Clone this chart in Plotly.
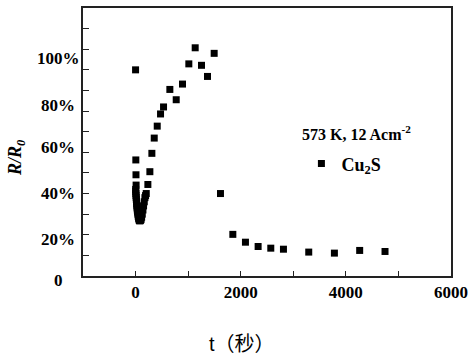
import plotly.graph_objects as go

# Data: time (s) and R/R0
t_vals = [0, 5, 8, 10,
          2, 4, 6, 9, 12, 15, 18, 21, 25, 29, 33, 38, 44, 50, 57, 65, 75, 85, 95,
          105, 115, 127, 140, 152, 165, 178, 190, 203,
          234, 272, 310, 355, 412, 475, 532, 652, 773, 893, 1013, 1134, 1254, 1368,
          1495, 1615, 1850, 2090, 2331, 2572, 2813, 3294, 3782, 4263, 4745]
r_vals = [1.0, 0.563, 0.491, 0.441,
          0.42, 0.41, 0.40, 0.39, 0.38, 0.37, 0.36, 0.35, 0.34, 0.33, 0.32, 0.31,
          0.30, 0.29, 0.28, 0.272, 0.268, 0.268, 0.27,
          0.275, 0.285, 0.30, 0.32, 0.34, 0.36, 0.38, 0.39, 0.40,
          0.444, 0.506, 0.595, 0.669, 0.727, 0.786, 0.82, 0.905, 0.855, 0.931, 1.029,
          1.107, 1.022, 0.968, 1.08, 0.40, 0.202, 0.164, 0.143, 0.135, 0.130, 0.116,
          0.111, 0.124, 0.119]

x_tick_vals = [0, 1000, 2000, 3000, 4000, 5000, 6000]
x_tick_text = ["0", "", "2000", "", "4000", "", "6000"]
y_tick_vals = [0.1, 0.2, 0.3, 0.4, 0.5, 0.6, 0.7, 0.8, 0.9, 1.0, 1.1, 1.2]
y_label_vals = [1.054, 0.828, 0.623, 0.400, 0.178, -0.024]
y_label_text = ["100%", "80%", "60%", "40%", "20%", "0"]

series_name = "Cu<sub>2</sub>S"
condition_text = "573 K, 12 Acm<sup>-2</sup>"

W, H = 474, 364
ML, MR, MT, MB = 83, 22, 6, 88
PW = W - ML - MR
PH = H - MT - MB
Y_MAX = 1.3

def px_x(p):
    return (p - ML) / PW

def px_y(p):
    return (H - MB - p) / PH

serif = "Liberation Serif, Times New Roman, serif"

fig = go.Figure()
fig.add_trace(go.Scatter(
    x=t_vals, y=r_vals, mode="markers", name=series_name,
    marker=dict(symbol="square", size=7, color="black"),
))

axis_line = "#222222"
fig.update_xaxes(
    range=[-1000, 6000], showgrid=False, zeroline=False,
    showline=True, linecolor=axis_line, linewidth=1.5, mirror=True,
    ticks="inside", ticklen=5, tickwidth=1.2, tickcolor=axis_line,
    tickvals=x_tick_vals, ticktext=x_tick_text,
    tickfont=dict(family=serif, size=17, color="black", weight="bold"),
)
fig.update_yaxes(
    range=[0, Y_MAX], showgrid=False, zeroline=False,
    showline=True, linecolor=axis_line, linewidth=1.5, mirror=True,
    ticks="inside", ticklen=6, tickwidth=1.2, tickcolor=axis_line,
    tickvals=y_tick_vals, showticklabels=False,
)

annotations = []
for v, txt in zip(y_label_vals, y_label_text):
    annotations.append(dict(
        x=px_x(58), xref="paper", y=v / Y_MAX, yref="paper", text="<b>%s</b>" % txt,
        showarrow=False, xanchor="center", yanchor="middle",
        font=dict(family=serif, size=17, color="black"),
    ))
annotations.append(dict(
    x=px_x(17), xref="paper", y=px_y(157), yref="paper",
    text="<b><i>R/R<sub>0</sub></i></b>", textangle=-90,
    showarrow=False, xanchor="center", yanchor="middle",
    font=dict(family=serif, size=18, color="black"),
))
annotations.append(dict(
    x=px_x(242), xref="paper", y=px_y(345), yref="paper",
    text="t（秒）", showarrow=False, xanchor="center", yanchor="middle",
    font=dict(family="Liberation Sans, Noto Sans CJK SC", size=20, color="black"),
))
annotations.append(dict(
    x=px_x(357), xref="paper", y=px_y(132), yref="paper",
    text="<b>%s</b>" % condition_text, showarrow=False,
    xanchor="center", yanchor="middle",
    font=dict(family=serif, size=16, color="black"),
))

fig.update_layout(
    width=W, height=H,
    margin=dict(l=ML, r=MR, t=MT, b=MB),
    paper_bgcolor="white", plot_bgcolor="white",
    annotations=annotations,
    showlegend=True,
    legend=dict(
        x=px_x(302), y=px_y(163), xanchor="left", yanchor="middle",
        bgcolor="rgba(0,0,0,0)", borderwidth=0,
        font=dict(family=serif, size=18, color="black", weight="bold"),
        itemwidth=30,
    ),
)

fig.write_html("out.html", config={"displayModeBar": False},
               post_script="document.body.style.margin='0';")
